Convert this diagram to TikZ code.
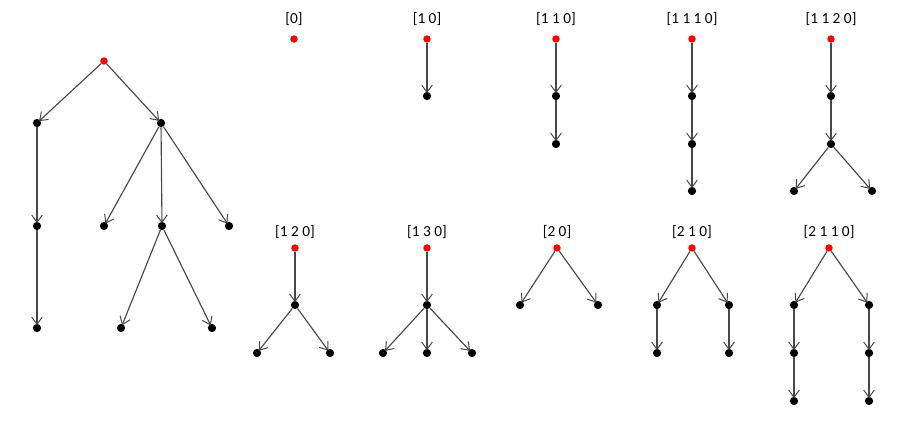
\documentclass[tikz,border=0pt]{standalone}
\usepackage{fontspec}
\setmainfont{Carlito}
\usetikzlibrary{arrows.meta}
\begin{document}
\begin{tikzpicture}[x=0.75pt,y=-0.75pt,
  rt/.style={circle,fill=red,inner sep=0pt,minimum size=5.6pt},
  bd/.style={circle,fill=black,inner sep=0pt,minimum size=6.2pt},
  lbl/.style={inner sep=0pt,font=\fontsize{11.5pt}{13pt}\selectfont,text=black},
  ed/.style={draw=black!72,line width=0.85pt,-{Straight Barb[length=5.5pt,width=8pt,line width=0.75pt]},shorten >=-1.2pt}]
\useasboundingbox (0,0) rectangle (907,427);
% big tree
\node[rt] (A) at (104,61) {};
\node[bd] (A1) at (37,123) {};
\node[bd] (A2) at (161,123) {};
\node[bd] (A11) at (37,226) {};
\node[bd] (A111) at (37,328) {};
\node[bd] (A21) at (104,226) {};
\node[bd] (A22) at (162,226) {};
\node[bd] (A23) at (229,226) {};
\node[bd] (A221) at (121,328) {};
\node[bd] (A222) at (212,328) {};
\draw[ed] (A)--(A1); \draw[ed] (A)--(A2);
\draw[ed] (A1)--(A11); \draw[ed] (A11)--(A111);
\draw[ed] (A2)--(A21); \draw[ed] (A2)--(A22); \draw[ed] (A2)--(A23);
\draw[ed] (A22)--(A221); \draw[ed] (A22)--(A222);
% [0]
\node[lbl] (L1) at (294,19) {[0]};
\node[rt] (B) at (294,39) {};
% [1 0]
\node[lbl] (L2) at (427,19) {[1 0]};
\node[rt] (C) at (427,39) {};
\node[bd] (C1) at (427,96) {};
\draw[ed] (C)--(C1);
% [1 1 0]
\node[lbl] (L3) at (556,19) {[1 1 0]};
\node[rt] (D) at (556,39) {};
\node[bd] (D1) at (556,96) {};
\node[bd] (D2) at (556,144) {};
\draw[ed] (D)--(D1); \draw[ed] (D1)--(D2);
% [1 1 1 0]
\node[lbl] (L4) at (692,19) {[1 1 1 0]};
\node[rt] (E) at (692,39) {};
\node[bd] (E1) at (692,96) {};
\node[bd] (E2) at (692,144) {};
\node[bd] (E3) at (692,191) {};
\draw[ed] (E)--(E1); \draw[ed] (E1)--(E2); \draw[ed] (E2)--(E3);
% [1 1 2 0]
\node[lbl] (L5) at (831,19) {[1 1 2 0]};
\node[rt] (F) at (831,39) {};
\node[bd] (F1) at (831,96) {};
\node[bd] (F2) at (831,144) {};
\node[bd] (F3) at (794,191) {};
\node[bd] (F4) at (872,191) {};
\draw[ed] (F)--(F1); \draw[ed] (F1)--(F2); \draw[ed] (F2)--(F3); \draw[ed] (F2)--(F4);
% [1 2 0]
\node[lbl] (L6) at (295,232) {[1 2 0]};
\node[rt] (G) at (295,248) {};
\node[bd] (G1) at (295,305) {};
\node[bd] (G2) at (257,353) {};
\node[bd] (G3) at (330,353) {};
\draw[ed] (G)--(G1); \draw[ed] (G1)--(G2); \draw[ed] (G1)--(G3);
% [1 3 0]
\node[lbl] (L7) at (427,232) {[1 3 0]};
\node[rt] (H) at (427,248) {};
\node[bd] (H1) at (427,305) {};
\node[bd] (H2) at (383,353) {};
\node[bd] (H3) at (427,353) {};
\node[bd] (H4) at (472,353) {};
\draw[ed] (H)--(H1); \draw[ed] (H1)--(H2); \draw[ed] (H1)--(H3); \draw[ed] (H1)--(H4);
% [2 0]
\node[lbl] (L8) at (557,232) {[2 0]};
\node[rt] (I) at (557,248) {};
\node[bd] (I1) at (520,305) {};
\node[bd] (I2) at (598,305) {};
\draw[ed] (I)--(I1); \draw[ed] (I)--(I2);
% [2 1 0]
\node[lbl] (L9) at (692,232) {[2 1 0]};
\node[rt] (J) at (692,248) {};
\node[bd] (J1) at (657,305) {};
\node[bd] (J2) at (729,305) {};
\node[bd] (J3) at (657,353) {};
\node[bd] (J4) at (729,353) {};
\draw[ed] (J)--(J1); \draw[ed] (J)--(J2); \draw[ed] (J1)--(J3); \draw[ed] (J2)--(J4);
% [2 1 1 0]
\node[lbl] (L10) at (829,232) {[2 1 1 0]};
\node[rt] (K) at (829,248) {};
\node[bd] (K1) at (794,305) {};
\node[bd] (K2) at (869,305) {};
\node[bd] (K3) at (794,353) {};
\node[bd] (K4) at (869,353) {};
\node[bd] (K5) at (794,401) {};
\node[bd] (K6) at (869,401) {};
\draw[ed] (K)--(K1); \draw[ed] (K)--(K2); \draw[ed] (K1)--(K3); \draw[ed] (K2)--(K4);
\draw[ed] (K3)--(K5); \draw[ed] (K4)--(K6);
\end{tikzpicture}
\end{document}
